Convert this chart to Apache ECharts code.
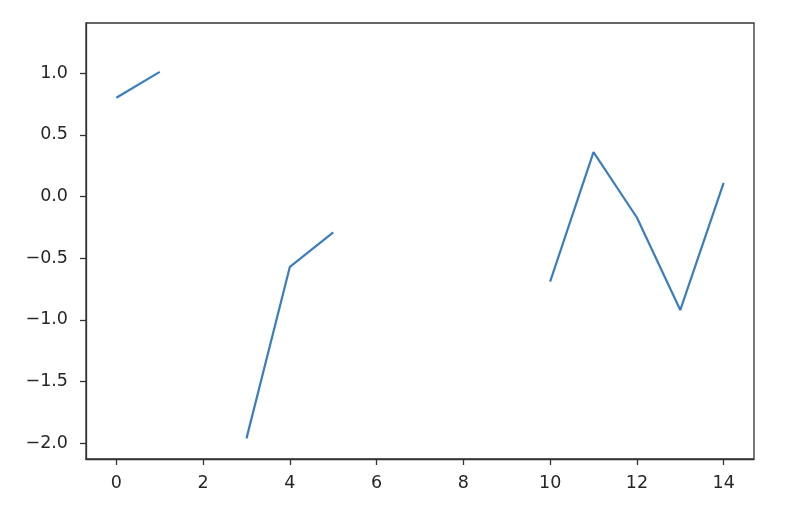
<!DOCTYPE html>
<html>
<head>
<meta charset="utf-8">
<script src="https://cdn.jsdelivr.net/npm/echarts@6/dist/echarts.min.js"></script>
<style>
html,body{margin:0;padding:0;background:#fff;}
#chart{width:798px;height:518px;}
</style>
</head>
<body>
<div id="chart"></div>
<script>
const xValues = [0,1,2,3,4,5,6,7,8,9,10,11,12,13,14];
const yValues = [0.80, 1.01, null, -1.96, -0.57, -0.29, null, null, null, null, -0.69, 0.36, -0.17, -0.92, 0.11];
const xTicks = [0,2,4,6,8,10,12,14];
const yTicks = [-2.0,-1.5,-1.0,-0.5,0.0,0.5,1.0];

const fmt = v => {
  const s = Math.abs(v).toFixed(1);
  return v < 0 ? '\u2212' + s : s;
};

const chart = echarts.init(document.getElementById('chart'), null, {renderer:'canvas'});
const textStyle = {color:'#262626', fontFamily:'DejaVu Sans', fontSize:17.5};
chart.setOption({
  animation:false,
  backgroundColor:'#fff',
  grid:{left:86, right:44, top:23, bottom:59, show:true, borderColor:'#333', borderWidth:1.3, backgroundColor:'transparent'},
  xAxis:{
    type:'value', min:-0.7, max:14.7,
    splitLine:{show:false},
    axisLine:{show:true, onZero:false, lineStyle:{color:'#333', width:1.3}},
    axisTick:{show:true, length:6, inside:false, customValues:xTicks, lineStyle:{color:'#333', width:1.3}},
    axisLabel:Object.assign({customValues:xTicks, margin:15, formatter:v=>String(v)}, textStyle)
  },
  yAxis:{
    type:'value', min:-2.127, max:1.406,
    splitLine:{show:false},
    axisLine:{show:true, onZero:false, lineStyle:{color:'#333', width:1.3}},
    axisTick:{show:true, length:6, inside:false, customValues:yTicks, lineStyle:{color:'#333', width:1.3}},
    axisLabel:Object.assign({customValues:yTicks, margin:18, formatter:fmt}, textStyle)
  },
  series:[{
    type:'line',
    data:xValues.map((x,i)=>[x, yValues[i]]),
    showSymbol:false,
    symbol:'none',
    connectNulls:false,
    lineStyle:{color:'#3a7ebf', width:2.2},
    itemStyle:{color:'#3a7ebf'}
  }]
});
</script>
</body>
</html>
